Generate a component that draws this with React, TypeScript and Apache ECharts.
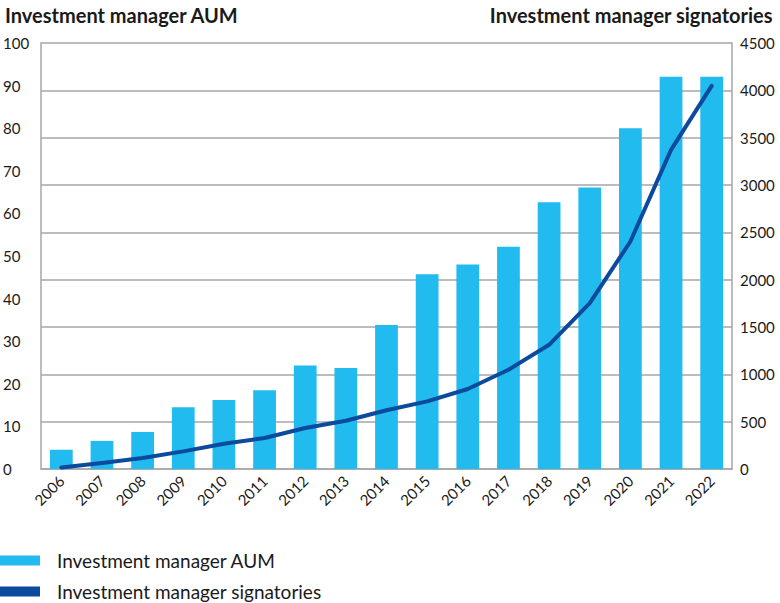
import React, { useEffect, useRef } from "react";
import * as echarts from "echarts";

const years = [
  "2006", "2007", "2008", "2009", "2010", "2011", "2012", "2013", "2014",
  "2015", "2016", "2017", "2018", "2019", "2020", "2021", "2022",
];

// bars, left axis (AUM)
const aum = [4.5, 6.6, 8.7, 14.5, 16.2, 18.5, 24.3, 23.7, 33.8, 45.7, 48.0, 52.2, 62.6, 66.1, 80.0, 92.1, 92.1];

// line, right axis (signatories)
const signatories = [15, 63, 116, 186, 267, 327, 433, 510, 620, 714, 845, 1048, 1312, 1753, 2403, 3371, 4047];

const FONT = "Lato";
const legendText = { fontFamily: FONT, fontSize: 19, color: "#1a1a1a", padding: [0, 0, 0, 12] };

const App: React.FC = () => {
  const chartRef = useRef<HTMLDivElement | null>(null);

  useEffect(() => {
    if (!chartRef.current) return;
    const chart = echarts.init(chartRef.current, undefined, { renderer: "svg" });

    const option = {
      animation: false,
      textStyle: { fontFamily: FONT },
      title: [
        {
          text: "Investment manager AUM",
          left: 0,
          top: 0,
          textStyle: { fontFamily: FONT, fontSize: 20, fontWeight: "bold", color: "#1a1a1a" },
        },
        {
          text: "Investment manager signatories",
          right: 2,
          top: 0,
          textStyle: { fontFamily: FONT, fontSize: 20, fontWeight: "bold", color: "#1a1a1a" },
        },
      ],
      // two single-item legends stacked, as in the original
      legend: [
        {
          left: 0,
          top: 551,
          padding: 0,
          icon: "rect",
          itemWidth: 40,
          itemHeight: 10,
          textStyle: legendText,
          data: ["Investment manager AUM"],
        },
        {
          left: 0,
          top: 582,
          padding: 0,
          icon: "rect",
          itemWidth: 40,
          itemHeight: 10,
          textStyle: legendText,
          data: ["Investment manager signatories"],
        },
      ],
      grid: { left: 41, right: 48, top: 43, bottom: 134 },
      xAxis: {
        type: "category",
        data: years,
        axisLine: { lineStyle: { color: "#a6a6a6", width: 1.5 } },
        axisTick: { show: false },
        axisLabel: {
          rotate: 45,
          interval: 0,
          margin: 9,
          fontFamily: FONT,
          fontSize: 15,
          color: "#1a1a1a",
        },
      },
      yAxis: [
        {
          type: "value",
          min: 0,
          max: 100,
          interval: 10,
          splitLine: { show: false },
          axisLine: { show: true, lineStyle: { color: "#a6a6a6", width: 1.5 } },
          axisTick: { show: false },
          axisLabel: {
            align: "left",
            margin: 38,
            fontFamily: FONT,
            fontSize: 15,
            color: "#1a1a1a",
          },
        },
        {
          type: "value",
          min: 0,
          max: 4500,
          interval: 500,
          position: "right",
          splitLine: { show: true, lineStyle: { color: "#a6a6a6", width: 1.5 } },
          axisLine: { show: true, lineStyle: { color: "#a6a6a6", width: 1.5 } },
          axisTick: { show: false },
          axisLabel: {
            margin: 8,
            fontFamily: FONT,
            fontSize: 15,
            color: "#1a1a1a",
            formatter: (v: number) => String(v),
          },
        },
      ],
      series: [
        {
          name: "Investment manager AUM",
          type: "bar",
          yAxisIndex: 0,
          data: aum,
          barWidth: "56%",
          itemStyle: { color: "#21bbef" },
        },
        {
          name: "Investment manager signatories",
          type: "line",
          yAxisIndex: 1,
          data: signatories,
          showSymbol: false,
          symbol: "none",
          smooth: false,
          lineStyle: { color: "#0b4a9c", width: 4, join: "round", cap: "round" },
          itemStyle: { color: "#0b4a9c" },
        },
      ],
    };

    chart.setOption(option);
    return () => {
      chart.dispose();
    };
  }, []);

  return (
    <div
      ref={chartRef}
      style={{
        position: "absolute",
        top: 0,
        left: 0,
        width: "780px",
        height: "603px",
        background: "#ffffff",
      }}
    />
  );
};

export default App;
